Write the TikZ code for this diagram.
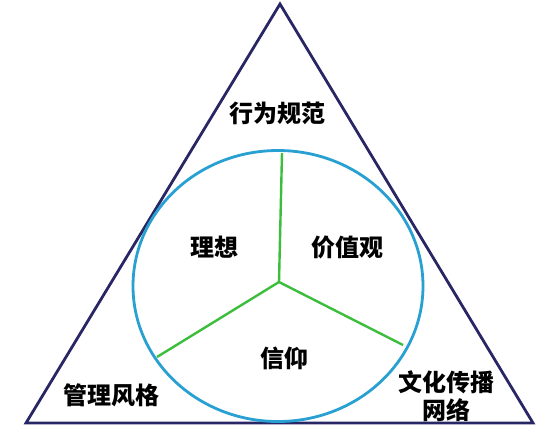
\documentclass[tikz,border=0pt]{standalone}
\usepackage{fontspec}
\usetikzlibrary{shapes.geometric}
\newfontfamily\cjk{Noto Sans CJK SC}
\begin{document}
\begin{tikzpicture}[x=1pt,y=-1pt,
  lbl/.style={font=\cjk\bfseries\fontsize{24}{28}\selectfont, text=black, inner sep=0pt, align=center},
  tri/.style={draw={rgb,255:red,40;green,38;blue,100}, line width=2.8pt, line join=miter},
  ring/.style={draw={rgb,255:red,40;green,160;blue,210}, line width=2.8pt},
  spoke/.style={draw={rgb,255:red,60;green,190;blue,60}, line width=2.4pt}]
\useasboundingbox (0,0) rectangle (556,437);
\coordinate (A) at (280,4);
\coordinate (B) at (26,423);
\coordinate (C) at (533,423);
\draw[tri] (A) -- (B) -- (C) -- cycle;
\node[ring, ellipse, minimum width=290pt, minimum height=271pt, inner sep=0pt] (ring) at (278,286) {};
\coordinate (O) at (279,282);
\coordinate (P1) at (282,153);
\coordinate (P2) at (157,357);
\coordinate (P3) at (403,345);
\draw[spoke] (O) -- (P1);
\draw[spoke] (O) -- (P2);
\draw[spoke] (O) -- (P3);
\node[lbl] (t1) at (277,113) {行为规范};
\node[lbl] (t2) at (214,247) {理想};
\node[lbl] (t3) at (347,247) {价值观};
\node[lbl] (t4) at (284,358) {信仰};
\node[lbl] (t5) at (111,395) {管理风格};
\node[lbl] (t6) at (446,396) {文化传播\\网络};
\end{tikzpicture}
\end{document}
